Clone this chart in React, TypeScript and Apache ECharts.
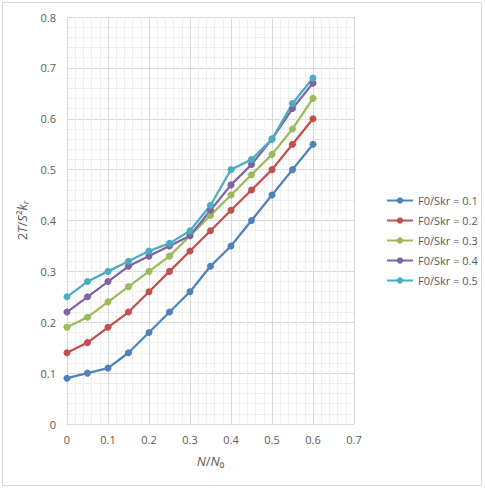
import { useEffect, useRef } from "react";
import * as echarts from "echarts";

const xValues = [0, 0.05, 0.1, 0.15, 0.2, 0.25, 0.3, 0.35, 0.4, 0.45, 0.5, 0.55, 0.6];
const seriesNames = ["F0/Skr = 0.1", "F0/Skr = 0.2", "F0/Skr = 0.3", "F0/Skr = 0.4", "F0/Skr = 0.5"];
const s01 = [0.09, 0.1, 0.11, 0.14, 0.18, 0.22, 0.26, 0.31, 0.35, 0.4, 0.45, 0.5, 0.55];
const s02 = [0.14, 0.16, 0.19, 0.22, 0.26, 0.3, 0.34, 0.38, 0.42, 0.46, 0.5, 0.55, 0.6];
const s03 = [0.19, 0.21, 0.24, 0.27, 0.3, 0.33, 0.37, 0.41, 0.45, 0.49, 0.53, 0.58, 0.64];
const s04 = [0.22, 0.25, 0.28, 0.31, 0.33, 0.35, 0.37, 0.42, 0.47, 0.51, 0.56, 0.62, 0.67];
const s05 = [0.25, 0.28, 0.3, 0.32, 0.34, 0.355, 0.38, 0.43, 0.5, 0.52, 0.56, 0.63, 0.68];
const colors = ["#4F81BD", "#C0504D", "#9BBB59", "#8064A2", "#4BACC6"];

const font = "'Open Sans', 'Liberation Sans', sans-serif";
const textColor = "#595959";

export default function App() {
  const ref = useRef<HTMLDivElement | null>(null);

  useEffect(() => {
    if (!ref.current) return;
    const chart = echarts.init(ref.current, undefined, { renderer: "svg" });
    const all = [s01, s02, s03, s04, s05];
    chart.setOption({
      animation: false,
      color: colors,
      textStyle: { fontFamily: font },
      grid: { left: 67, right: 131, top: 17, bottom: 66 },
      graphic: [
        {
          type: "rect",
          shape: { x: 2.5, y: 2.5, width: 479, height: 483 },
          style: { fill: "none", stroke: "#d9d9d9", lineWidth: 1 },
          silent: true,
        },
      ],
      legend: {
        orient: "vertical",
        left: 381,
        top: 190,
        itemWidth: 26,
        itemHeight: 8,
        itemGap: 9,
        textStyle: { color: textColor, fontSize: 11, fontFamily: font },
        data: seriesNames,
      },
      xAxis: {
        type: "value",
        min: 0,
        max: 0.7,
        interval: 0.1,
        name: "{i|N}{n|/}{i|N}{n|₀}",
        nameLocation: "middle",
        nameGap: 30,
        nameTextStyle: {
          rich: {
            i: { fontStyle: "italic", fontSize: 13, color: textColor, fontFamily: font },
            n: { fontSize: 13, color: textColor, fontFamily: font },
          },
        },
        axisLine: { show: false },
        axisTick: { show: false },
        axisLabel: { color: textColor, fontSize: 11, margin: 10 },
        splitLine: { show: true, lineStyle: { color: "#d9d9d9", width: 1 } },
        minorTick: { show: false, splitNumber: 5 },
        minorSplitLine: { show: true, lineStyle: { color: "#efefef", width: 1 } },
      },
      yAxis: {
        type: "value",
        min: 0,
        max: 0.8,
        interval: 0.1,
        name: "{n|2}{i|T}{n|/}{i|S}{n|²}{i|k}{s|r}",
        nameLocation: "middle",
        nameGap: 36,
        nameTextStyle: {
          rich: {
            i: { fontStyle: "italic", fontSize: 13, color: textColor, fontFamily: font },
            n: { fontSize: 13, color: textColor, fontFamily: font },
            s: { fontStyle: "italic", fontSize: 9, color: textColor, fontFamily: font, padding: [6, 0, 0, 0] },
          },
        },
        axisLine: { show: false },
        axisTick: { show: false },
        axisLabel: { color: textColor, fontSize: 11, margin: 11 },
        splitLine: { show: true, lineStyle: { color: "#d9d9d9", width: 1 } },
        minorTick: { show: false, splitNumber: 5 },
        minorSplitLine: { show: true, lineStyle: { color: "#efefef", width: 1 } },
      },
      series: all.map((vals, k) => ({
        name: seriesNames[k],
        type: "line",
        data: vals.map((v, i) => [xValues[i], v]),
        symbol: "circle",
        symbolSize: 7,
        lineStyle: { width: 2.25, color: colors[k] },
        itemStyle: { color: colors[k] },
      })),
    });
    return () => chart.dispose();
  }, []);

  return (
    <div
      ref={ref}
      style={{ position: "fixed", left: 0, top: 0, width: 485, height: 490, background: "#fff" }}
    />
  );
}
